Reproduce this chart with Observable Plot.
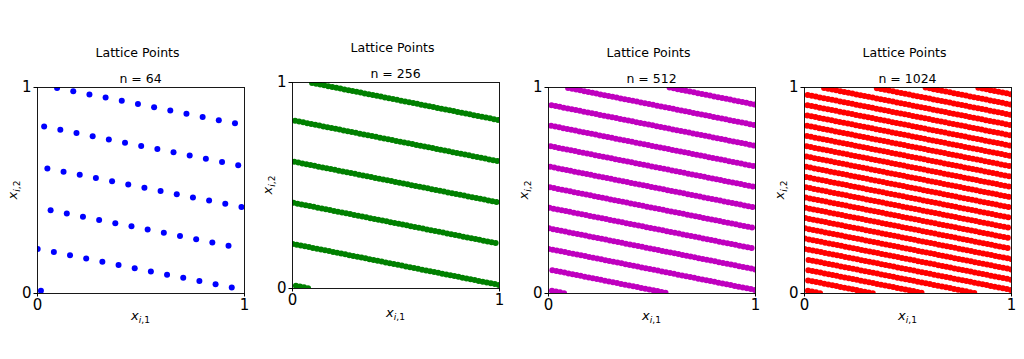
<!DOCTYPE html>
<html><head><meta charset="utf-8">
<script src="https://cdn.jsdelivr.net/npm/d3@7"></script>
<script src="https://cdn.jsdelivr.net/npm/@observablehq/plot@0.6"></script>
<style>
body{margin:0;background:#fff;}
#fig{position:relative;width:1024px;height:359px;overflow:hidden;background:#fff;font-family:"DejaVu Sans",sans-serif;color:#000;}
#fig svg{position:absolute;top:0;}
#fig svg text{font-size:15px !important;font-family:"DejaVu Sans",sans-serif !important;fill:#000 !important;}
.t{position:absolute;transform:translate(-50%,-50%);white-space:nowrap;font-size:12.5px;line-height:1;}
.yl{transform:translate(-50%,-50%) rotate(-90deg);}
.m{font-size:13px;}
.m i{font-style:italic;}
.m sub{font-size:70%;vertical-align:baseline;position:relative;top:0.35em;}
</style></head><body><div id="fig"></div>
<script>
// ---- data ----
const figTitle = "Lattice Points";
const sampleSizes = [64, 256, 512, 1024];
const generatingVector = [1, 51];
const shiftVector = [0.0165, 0.0135];
const colors = ["#0000ff", "#008000", "#bf00bf", "#ff0000"];
const tickValues = [0, 1];
const xLabelSub = "1";
const yLabelSub = "2";

// ---- layout ----
const layout = [
  {L: 37, T: 87, tY: 52.7, nY: 79, xlY: 316},
  {L: 292, T: 82, tY: 48.3, nY: 74.3, xlY: 312.5},
  {L: 548, T: 87, tY: 52.7, nY: 79, xlY: 316},
  {L: 804, T: 87, tY: 52.7, nY: 79, xlY: 316}
];
const W = 207, H = 206, mL = 36, mR = 12, FH = 359;

const fig = document.getElementById("fig");
function addText(html, x, y, cls) {
  const d = document.createElement("div");
  d.className = "t " + (cls || "");
  d.style.left = x + "px";
  d.style.top = y + "px";
  d.innerHTML = html;
  fig.appendChild(d);
}

sampleSizes.forEach((n, p) => {
  const pts = d3.range(n).map(i => ({
    x: ((i * generatingVector[0]) / n + shiftVector[0]) % 1,
    y: ((i * generatingVector[1]) / n + shiftVector[1]) % 1
  }));
  const {L, T, tY, nY, xlY} = layout[p];
  const chart = Plot.plot({
    width: mL + W + mR,
    height: FH,
    marginLeft: mL,
    marginRight: mR,
    marginTop: T,
    marginBottom: FH - T - H,
    style: {background: "transparent", fontFamily: "DejaVu Sans", fontSize: "15px", color: "black", overflow: "visible"},
    x: {domain: [0, 1], ticks: tickValues, tickFormat: d => String(d), label: null, tickSize: 3.5, tickPadding: 2},
    y: {domain: [0, 1], ticks: tickValues, tickFormat: d => String(d), label: null, tickSize: 3.5, tickPadding: 2.5},
    marks: [
      Plot.dot(pts, {x: "x", y: "y", r: 3, fill: colors[p], stroke: null, clip: true}),
      Plot.frame({stroke: "black", strokeWidth: 0.9})
    ]
  });
  chart.style.left = (L - mL) + "px";
  fig.appendChild(chart);
  const cx = L + W / 2;
  addText(figTitle, cx - 3, tY);
  addText("n = " + n, cx, nY);
  addText('<span class="m"><i>x</i><sub><i>i</i>,' + xLabelSub + '</sub></span>', cx, xlY);
  addText('<span class="m"><i>x</i><sub><i>i</i>,' + yLabelSub + '</sub></span>', L - 24, T + H / 2, "yl");
});
</script></body></html>
